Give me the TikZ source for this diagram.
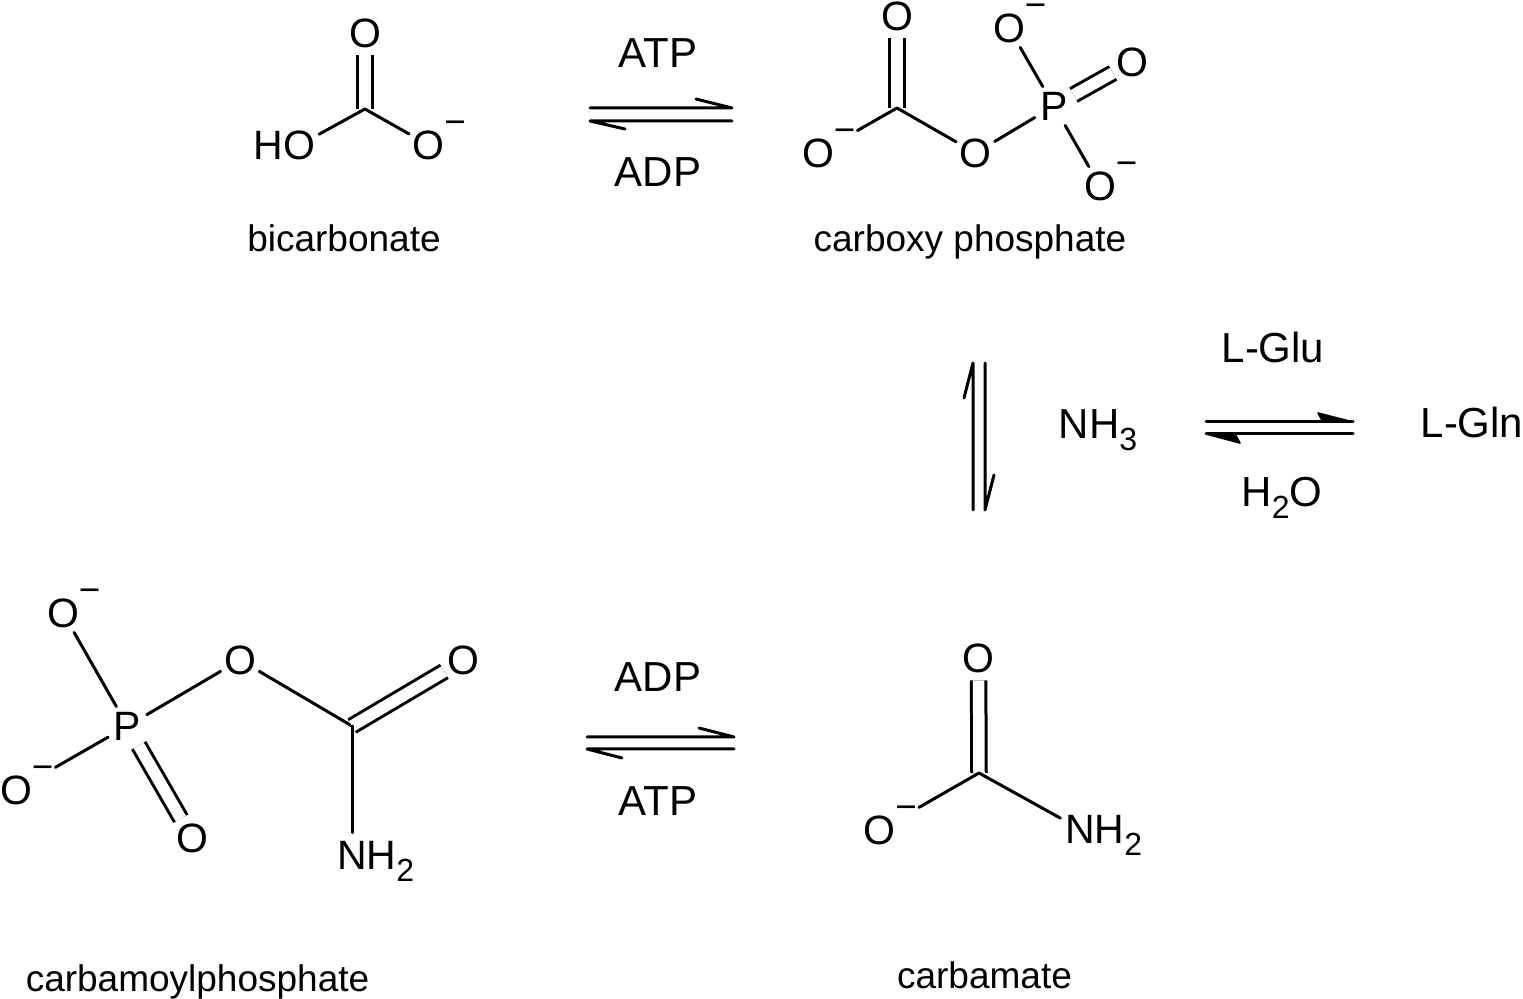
\documentclass[tikz,border=0pt]{standalone}
\usepackage{fontspec}
\setmainfont{Liberation Sans}
\newcommand{\anion}{\rlap{\raisebox{12.35pt}{\fontsize{18.4}{20}\selectfont −}}}
\newcommand{\subs}[1]{\raisebox{-6pt}{\fontsize{16}{16}\selectfont #1}}
\tikzset{
  atom/.style={circle,font=\fontsize{20.5}{24}\selectfont,inner sep=0pt,minimum size=22pt,text height=14.68pt,text depth=0pt},
  molname/.style={font=\fontsize{18.5}{22}\selectfont,inner sep=0pt,text height=13.17pt,text depth=0pt},
  lbl/.style={font=\fontsize{21}{24}\selectfont,inner sep=0pt,text height=14.68pt,text depth=0pt},
  bond/.style={line width=1.5pt,black,line cap=round},
  dbond/.style={line width=1.5pt,black,double=white,double distance=5.75pt},
  clearminus/.style={shorten >=11.5pt},
  arr/.style={line width=1.5pt,line cap=round,line join=round}
}
\begin{document}
\begin{tikzpicture}[x=0.5pt,y=-0.5pt]
\useasboundingbox (0,0) rectangle (1523,999);
% bicarbonate
\node[atom] (o1) at (365,33) {O};
\coordinate (c1) at (365,109);
\node[atom] (ho) at (299.5,145) {\llap{H}O};
\node[atom] (o2) at (428.5,145) {O\anion};
\draw[dbond] (c1) -- (o1);
\draw[bond] (c1) -- (ho);
\draw[bond] (c1) -- (o2);
\node[molname] (n1) at (344,238) {bicarbonate};
% carboxy phosphate
\node[atom] (o3) at (897,16) {O};
\coordinate (c2) at (897,108);
\node[atom] (o4) at (818,153) {O\anion};
\node[atom] (o5) at (975.5,153) {O};
\node[atom] (p1) at (1054,106) {P};
\node[atom] (o6) at (1009,28) {O\anion};
\node[atom] (o7) at (1132.5,62) {O};
\node[atom] (o8) at (1100,186) {O\anion};
\draw[dbond] (c2) -- (o3);
\draw[bond,clearminus] (c2) -- (o4);
\draw[bond] (c2) -- (o5);
\draw[bond] (o5) -- (p1);
\draw[bond] (p1) -- (o6);
\draw[dbond] (p1) -- (o7);
\draw[bond] (p1) -- (o8);
\node[molname] (n2) at (970,238) {carboxy phosphate};
% carbamoylphosphate
\node[atom] (o9) at (63,613) {O\anion};
\node[atom] (o10) at (16,790) {O\anion};
\node[atom] (p2) at (127.5,726) {P};
\node[atom] (o11) at (192,838) {O};
\node[atom] (o12) at (240,660) {O};
\coordinate (c3) at (352,726);
\node[atom] (o13) at (463.5,660) {O};
\node[atom] (n3) at (352,855) {N\rlap{H\subs{2}}};
\draw[bond] (p2) -- (o9);
\draw[bond,clearminus] (p2) -- (o10);
\draw[dbond] (p2) -- (o11);
\draw[bond] (p2) -- (o12);
\draw[bond] (o12) -- (c3);
\draw[dbond] (c3) -- (o13);
\draw[bond] (c3) -- (n3);
\node[molname] (n4) at (197.5,978) {carbamoylphosphate};
% carbamate
\node[atom] (o14) at (978.5,658) {O};
\coordinate (c4) at (979,773);
\node[atom] (o15) at (879.5,830) {O\anion};
\node[atom] (n5) at (1080,829) {N\rlap{H\subs{2}}};
\draw[dbond] (c4) -- (o14);
\draw[bond,clearminus] (c4) -- (o15);
\draw[bond] (c4) -- (n5);
\node[molname] (n6) at (984.5,975) {carbamate};
% labels
\node[lbl] (l1) at (658,53) {ATP};
\node[lbl] (l2) at (658,172) {ADP};
\node[lbl] (l3) at (658,677) {ADP};
\node[lbl] (l4) at (658,801) {ATP};
\node[lbl] (l5) at (1273,348) {L-Glu};
\node[lbl] (l6) at (1282,492) {H\subs{2}O};
\node[lbl] (l7) at (1098,424) {NH\subs{3}};
\node[lbl] (l8) at (1472,423) {L-Gln};
% arrows
\coordinate (a1) at (590,108); \coordinate (a2) at (732,108); \coordinate (a3) at (696,99);
\coordinate (b1) at (732,121); \coordinate (b2) at (590,121); \coordinate (b3) at (625,129);
\draw[arr] (a1) -- (a2) -- (a3);
\draw[arr] (b1) -- (b2) -- (b3);
\coordinate (c1a) at (973,510); \coordinate (c2a) at (973,363); \coordinate (c3a) at (964,398);
\coordinate (d1a) at (985,363); \coordinate (d2a) at (985,510); \coordinate (d3a) at (994,475);
\draw[arr] (c1a) -- (c2a) -- (c3a);
\draw[arr] (d1a) -- (d2a) -- (d3a);
\coordinate (e1) at (1206,422); \coordinate (e2) at (1353,422); \coordinate (e3) at (1318,413);
\coordinate (e4) at (1323,422);
\coordinate (f1) at (1353,434); \coordinate (f2) at (1206,434); \coordinate (f3) at (1240,443);
\coordinate (f4) at (1235,434);
\draw[arr] (e1) -- (e2);
\draw[arr] (f1) -- (f2);
\fill[line join=round,draw=black,line width=0.8pt] (e2) -- (e3) -- (e4) -- cycle;
\fill[line join=round,draw=black,line width=0.8pt] (f2) -- (f3) -- (f4) -- cycle;
\coordinate (g1) at (587,737); \coordinate (g2) at (734,737); \coordinate (g3) at (699,728);
\coordinate (h1) at (734,749); \coordinate (h2) at (587,749); \coordinate (h3) at (622,758);
\draw[arr] (g1) -- (g2) -- (g3);
\draw[arr] (h1) -- (h2) -- (h3);
\end{tikzpicture}
\end{document}
